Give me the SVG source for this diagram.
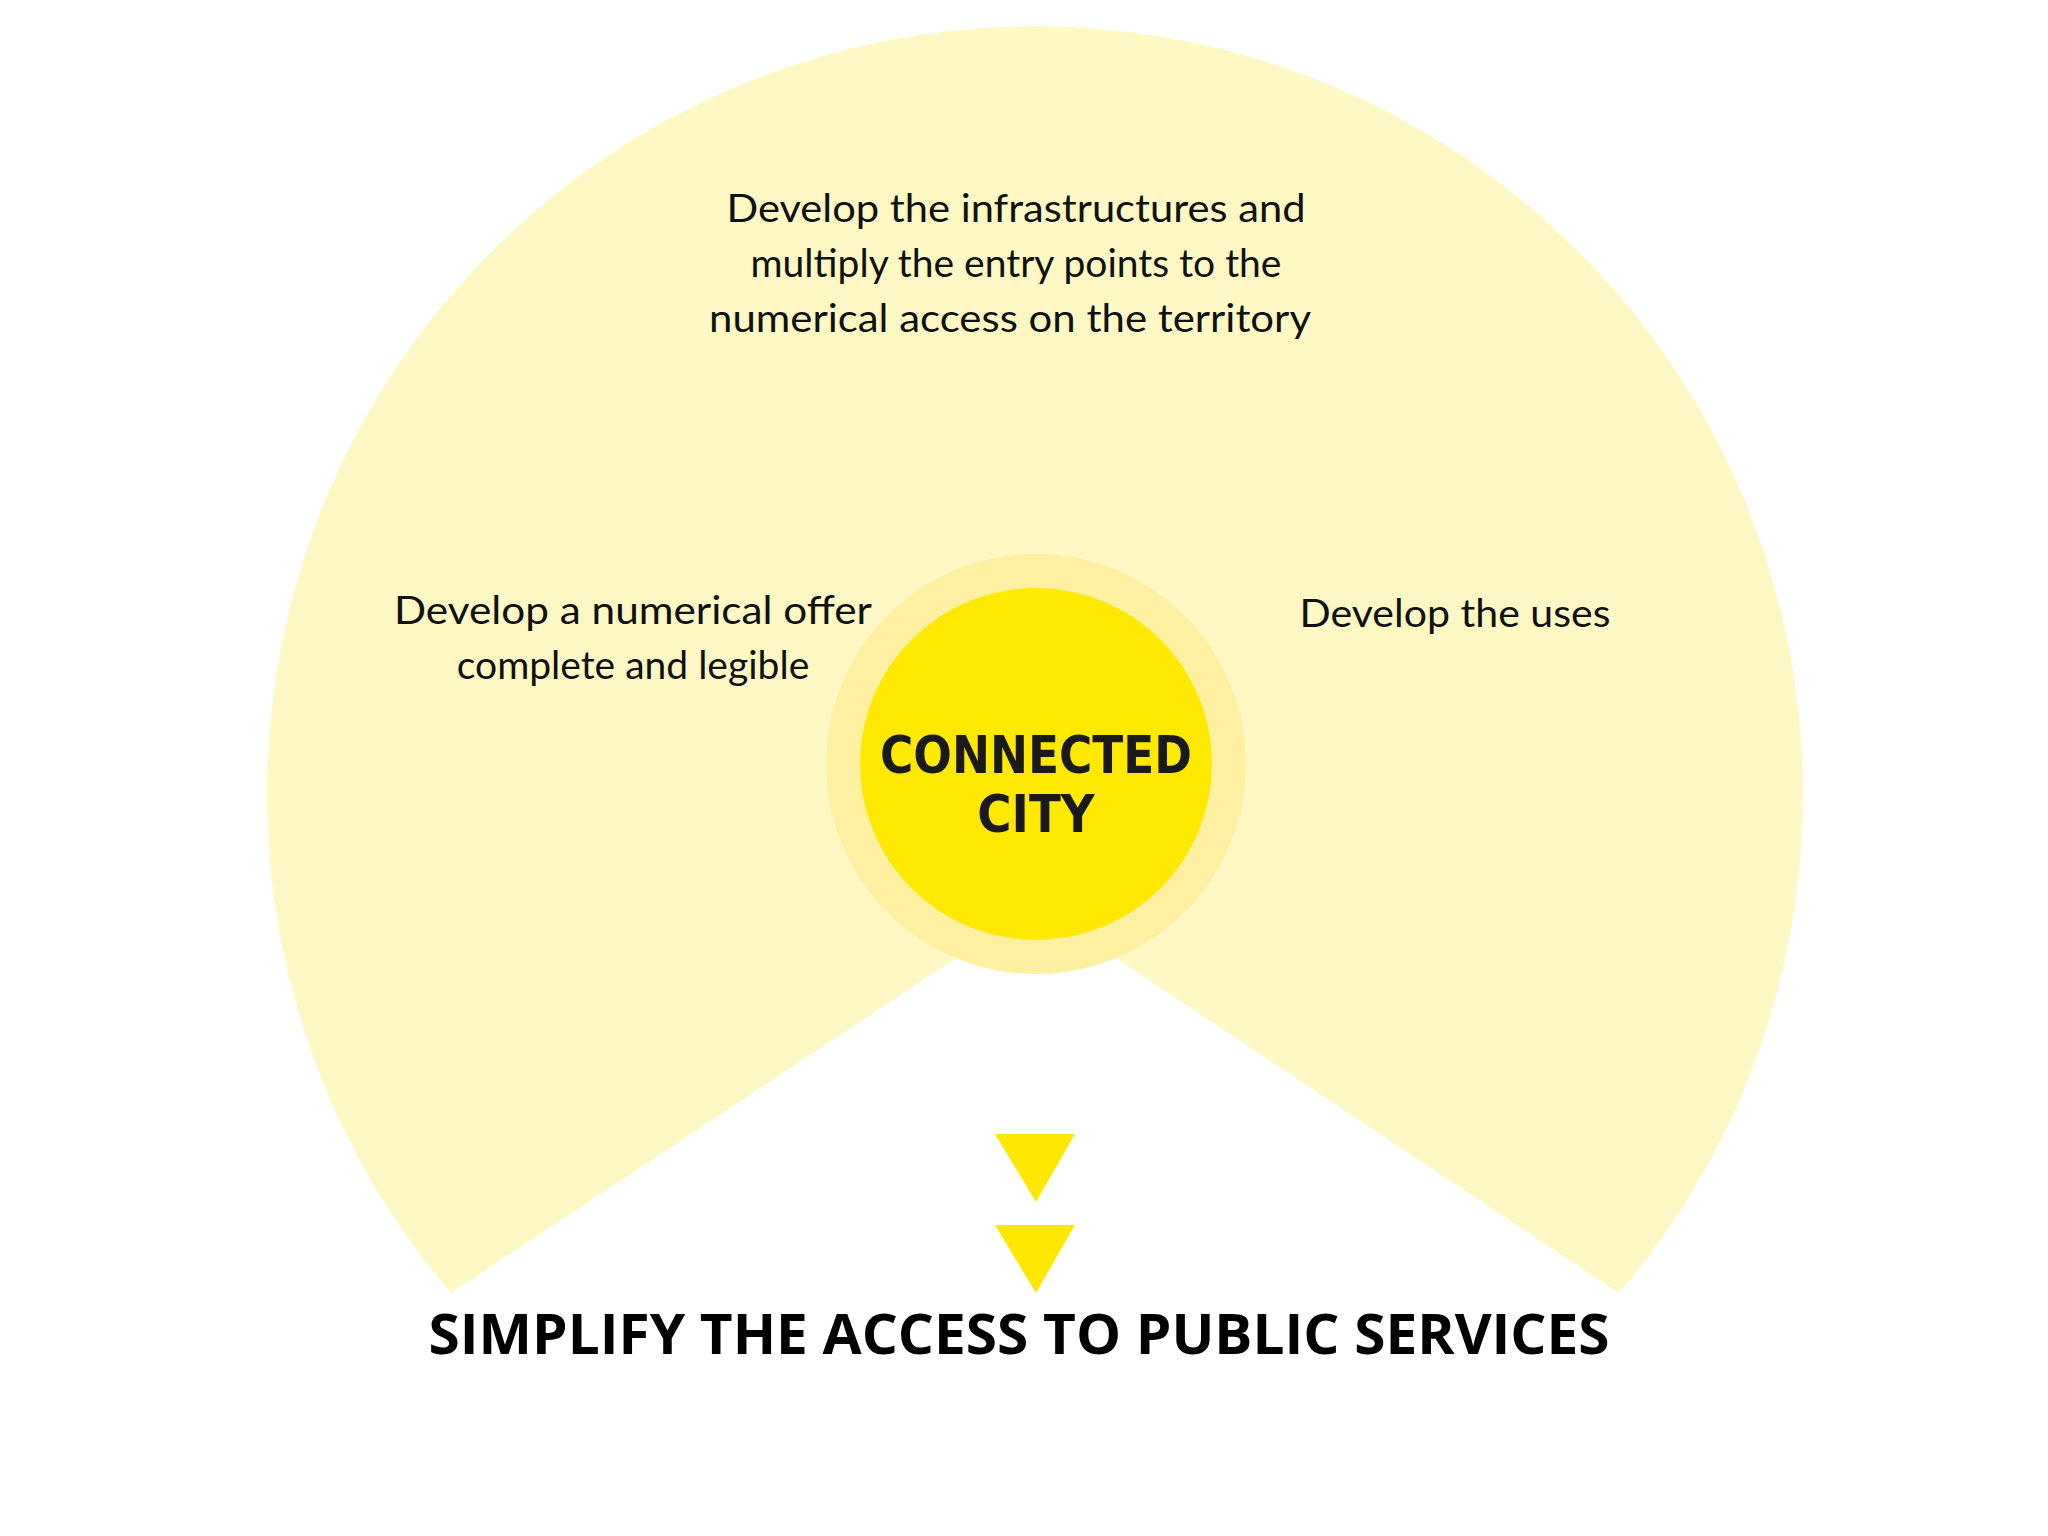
<svg xmlns="http://www.w3.org/2000/svg" width="2048" height="1536" viewBox="0 0 2048 1536">
<style>
.t{font-family:Lato,"Open Sans",sans-serif;font-size:39px;fill:#111;text-anchor:middle}
.c{font-family:"DejaVu Sans Condensed","DejaVu Sans",sans-serif;font-weight:bold;font-size:52px;fill:#1a1a1a;text-anchor:middle}
.h{font-family:"Open Sans",Lato,sans-serif;font-weight:bold;font-size:56px;fill:#000;text-anchor:middle}
.tri{fill:#ffe800}
</style>
<rect width="2048" height="1536" fill="#fff"/>
<g id="fan"><path d="M1036 905 L451 1293 A768 768 0 1 1 1619 1293 Z" fill="#fff8c4"/></g>
<g id="hub">
<circle cx="1036" cy="764" r="210" fill="#fdf0a0"/>
<circle cx="1036" cy="764" r="176" fill="#ffe900"/>
<text class="c" x="1036" y="773" textLength="312" lengthAdjust="spacingAndGlyphs">CONNECTED</text>
<text class="c" x="1036" y="832">CITY</text>
</g>
<g id="top"><text class="t" x="1016" y="222" textLength="579" lengthAdjust="spacingAndGlyphs">Develop the infrastructures and</text>
<text class="t" x="1016" y="277">multiply the entry points to the</text>
<text class="t" x="1010" y="332" textLength="602" lengthAdjust="spacingAndGlyphs">numerical access on the territory</text></g>
<g id="left"><text class="t" x="633" y="624" textLength="478" lengthAdjust="spacingAndGlyphs">Develop a numerical offer</text>
<text class="t" x="633" y="679">complete and legible</text></g>
<g id="right"><text class="t" x="1455" y="627" textLength="311" lengthAdjust="spacingAndGlyphs">Develop the uses</text></g>
<g id="connectors">
<polygon class="tri" points="995,1134 1075,1134 1036,1202"/>
<polygon class="tri" points="995,1225 1075,1225 1036,1293"/>
</g>
<g id="result"><text class="h" x="1019" y="1354" textLength="1181" lengthAdjust="spacingAndGlyphs">SIMPLIFY THE ACCESS TO PUBLIC SERVICES</text></g>
</svg>
